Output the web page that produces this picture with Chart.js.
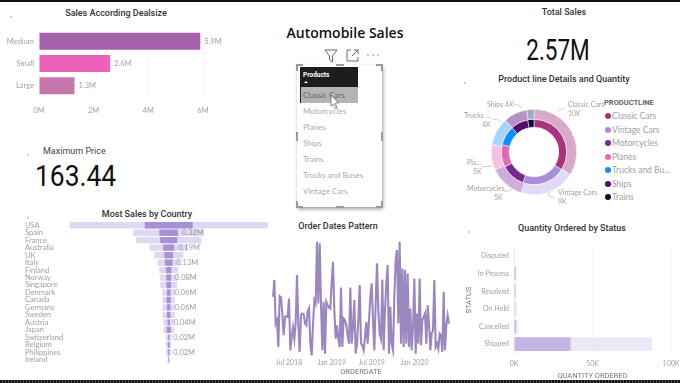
<!DOCTYPE html>
<html>
<head>
<meta charset="utf-8">
<title>Automobile Sales</title>
<script src="https://cdn.jsdelivr.net/npm/chart.js@4"></script>
<style>
  html, body { margin: 0; padding: 0; background: #fff; }
  #page { position: relative; width: 680px; height: 383px; overflow: hidden; font-family: Roboto, sans-serif; background: #fff; filter: blur(0.4px); }
  #page canvas { position: absolute; }
  .txt { position: absolute; white-space: nowrap; line-height: 1; transform: translate(-50%, -50%); }
  .left { transform: translate(0, -50%); }
  .title { font-size: 9px; font-weight: 500; color: #333; }
  .kpi { font-size: 30px; font-weight: 400; color: #111; }
  .topbar { position: absolute; left: 0; top: 0; width: 680px; height: 2px; background: #111; }
  .botbar { position: absolute; left: 0; top: 380px; width: 680px; height: 3px; background: repeating-linear-gradient(90deg, #111 0 2px, #555 2px 3px); }
  #slicer { position: absolute; left: 297px; top: 65px; width: 85px; height: 142px; background: #fff; box-shadow: 1px 2px 4px rgba(0,0,0,.4); }
  #slicer .head { position: absolute; left: 3px; top: 2px; width: 58px; height: 20px; background: #1c1c1c; }
  #slicer .sel { position: absolute; left: 3px; top: 22px; width: 58px; height: 16px; background: #b4b4b4; border-left: 1px solid #222; box-sizing: border-box; }
  .dot { position: absolute; width: 6px; height: 6px; border-radius: 50%; transform: translate(-50%, -50%); }
  .small { font-family: Lato, Roboto, sans-serif; }
</style>
</head>
<body>
<div id="page">
  <div class="topbar"></div>
  <div class="botbar"></div>

  <div class="txt title" style="left:116px;top:13px">Sales According Dealsize</div>
  <div class="txt left" style="left:43px;top:151px;font-size:9px;color:#444">Maximum Price</div>
  <div class="txt left kpi" style="left:35px;top:176px;transform:translate(0,-50%) scaleX(.88);transform-origin:left center">163.44</div>
  <div class="txt title" style="left:147px;top:214px">Most Sales by Country</div>
  <div class="txt title" style="left:338px;top:226px">Order Dates Pattern</div>
  <div class="txt" style="left:345px;top:32px;font:600 14px 'Open Sans',sans-serif;color:#111">Automobile Sales</div>
  <div class="txt title" style="left:564px;top:12px">Total Sales</div>
  <div class="txt kpi" style="left:558px;top:50px;transform:translate(-50%,-50%) scaleX(.75)">2.57M</div>
  <div class="txt title" style="left:564px;top:79px">Product line Details and Quantity</div>
  <div class="txt title" style="left:572px;top:228px">Quantity Ordered by Status</div>
  <div class="txt left" style="left:604px;top:103px;font-size:7.5px;font-weight:700;color:#666">PRODUCTLINE</div>
  <div id="legend"></div>

  <div id="slicer">
    <div class="head"></div>
    <div class="sel"></div>
  </div>
  <div class="txt left" style="left:303px;top:75px;font-size:6.5px;font-weight:700;color:#fff">Products</div>
  <div id="slicerItems"></div>
  <svg width="680" height="383" style="position:absolute;left:0;top:0;pointer-events:none">
    <g fill="none" stroke="#666" stroke-width="1">
      <path d="M325 50h12l-4.5 6v6l-3-2v-4z"/>
      <path d="M351 50h-4v11h11v-4M352 56l6-6M354 50h4v4"/>
    </g>
    <g fill="#777"><circle cx="368" cy="55" r=".8"/><circle cx="373" cy="55" r=".8"/><circle cx="378" cy="55" r=".8"/></g>
    <g fill="#777"><circle cx="11" cy="17" r=".7"/><circle cx="28" cy="155" r=".7"/><circle cx="28" cy="218" r=".7"/><circle cx="465" cy="83" r=".7"/><circle cx="469" cy="232" r=".7"/></g>
    <path d="M304 83l2-2 2 2z" fill="#fff"/>
    <g fill="#9a9a9a">
      <path d="M296 64h7v2h-5v5h-2z"/><path d="M383 64h-7v2h5v5h2z"/>
      <path d="M296 208h7v-2h-5v-5h-2z"/><path d="M383 208h-7v-2h5v-5h2z"/>
      <rect x="336" y="64" width="8" height="2"/><rect x="336" y="206" width="8" height="2"/>
      <rect x="296" y="132" width="2" height="9"/><rect x="381" y="132" width="2" height="9"/>
    </g>
    <path d="M331 95v11l2.5-2 2 4.5 1.6-.8-2-4.4 3.4-.3z" fill="#fff" stroke="#555" stroke-width=".7"/>
  </svg>

  <canvas id="dealChart" width="240" height="100" style="left:0;top:20px"></canvas>
  <canvas id="countryChart" width="260" height="155" style="left:20px;top:215px"></canvas>
  <canvas id="orderChart" width="195" height="145" style="left:265px;top:232px"></canvas>
  <canvas id="productChart" width="148" height="112" style="left:460px;top:96px"></canvas>
  <canvas id="statusChart" width="230" height="143" style="left:465px;top:238px"></canvas>
</div>

<script>
// deal size
const dealSizes = ['Medium', 'Small', 'Large'];
const dealSales = [5.9, 2.6, 1.3];
const dealColors = ['#a560aa', '#ec62b8', '#c678ad'];

// country funnel, values in millions
const countries = ['USA', 'Spain', 'France', 'Australia', 'UK', 'Italy', 'Finland', 'Norway', 'Singapore', 'Denmark',
  'Canada', 'Germany', 'Sweden', 'Austria', 'Japan', 'Switzerland', 'Belgium', 'Philippines', 'Ireland'];
const countrySalesInner = [0.82, 0.32, 0.29, 0.19, 0.15, 0.13, 0.09, 0.08, 0.08, 0.06, 0.07, 0.06, 0.06, 0.04, 0.07, 0.02, 0.03, 0.02, 0.01];
const countrySalesOuter = [3.39, 1.21, 1.12, 0.65, 0.50, 0.38, 0.33, 0.30, 0.29, 0.22, 0.21, 0.21, 0.21, 0.18, 0.18, 0.10, 0.09, 0.09, 0.04];

// order dates line
const orderQuantity = [540, 690, 300, 330, 90, 546, 534, 390, 195, 360, 366, 360, 525, 60, 180, 264, 165, 300, 735, 300,
  45, 375, 390, 384, 300, 285, 405, 435, 120, 15, 285, 510, 480, 1035, 480, 1020, 480, 60, 495, 30,
  495, 465, 444, 435, 660, 855, 420, 165, 285, 165, 90, 624, 90, 345, 330, 285, 195, 120, 624, 120,
  270, 510, 30, 120, 330, 645, 120, 105, 60, 180, 315, 120, 330, 540, 660, 330, 60, 480, 840, 420,
  210, 165, 696, 60, 420, 660, 825, 30, 450, 120, 60, 540, 870, 960, 300, 1035, 120, 795, 90, 780,
  120, 750, 90, 435, 60, 270, 705, 30, 390, 120, 705, 105, 330, 360, 390, 120, 465, 300, 60, 210,
  240, 690, 90, 120, 75, 210, 195, 45, 585, 60, 285, 375, 300];
const orderTickIndex = [12, 44, 74, 106];
const orderTickText = ['Jul 2018', 'Jan 2019', 'Jul 2019', 'Jan 2020'];

// product line donut
const productLines = ['Classic Cars', 'Vintage Cars', 'Motorcycles', 'Planes', 'Trucks and Buses', 'Ships', 'Trains'];
const productLegendText = ['Classic Cars', 'Vintage Cars', 'Motorcycles', 'Planes', 'Trucks and Bu...', 'Ships', 'Trains'];
const productOuter = [34, 21, 13.5, 9.5, 10.7, 8.9, 2.8];
const productInner = [34, 21.5, 12, 11, 9.7, 8.6, 3.1];
const productColors = ['#a8337f', '#a98fd8', '#7b2a8c', '#e568b3', '#118dff', '#4f0f6a', '#0c0b3f'];
const productTints = ['#d9a9c9', '#e2daf4', '#cdaed8', '#f3c0e1', '#a9d4fa', '#b592c2', '#a3aac2'];
const calloutName = ['Classic Cars', 'Vintage Cars', 'Motorcycles', 'Pla...', 'Trucks ...', 'Ships 4K'];
const calloutValue = ['10K', '9K', '5K', '5K', '4K', ''];

// status
const statuses = ['Disputed', 'In Process', 'Resolved', 'On Hold', 'Cancelled', 'Shipped'];
const statusInner = [0.3, 1, 0.8, 0.5, 1.2, 36];
const statusOuter = [0.8, 1.6, 1.3, 2, 2.6, 88];

const slicerItems = ['Classic Cars', 'Motorcycles', 'Planes', 'Ships', 'Trains', 'Trucks and Buses', 'Vintage Cars'];

const smallFont = 'Lato, Roboto, sans-serif';
Chart.defaults.font.family = smallFont;
Chart.defaults.animation = false;
Chart.defaults.responsive = false;
Chart.defaults.plugins.legend.display = false;
Chart.defaults.plugins.tooltip.enabled = false;

const grayText = '#a0a0a0';

// text right after the end of a bar
const endLabels = {
  id: 'endLabels',
  afterDatasetsDraw(chart, args, opts) {
    const ctx = chart.ctx;
    ctx.save();
    ctx.font = opts.font;
    ctx.fillStyle = opts.color;
    ctx.textBaseline = 'middle';
    chart.getDatasetMeta(opts.dataset).data.forEach(function(bar, i) {
      if (opts.text[i]) ctx.fillText(opts.text[i], Math.max(bar.x, bar.base) + opts.gap, bar.y);
    });
    ctx.restore();
  }
};

// donut callouts, text and leader line placed per slice
const calloutPlaces = [
  { x: 108, y: 9, line: [[97, 15], [105, 12]] },
  { x: 98, y: 97, line: [[88, 96], [90, 101], [95, 101]] },
  { x: 7, y: 93, valueX: 34, line: [[44, 96], [51, 94], [53, 91]] },
  { x: 7, y: 67, valueX: 13, line: [[21, 71], [32, 70]] },
  { x: 4, y: 20, valueX: 22, line: [[32, 23], [39, 24], [42, 27]] },
  { x: 27, y: 9, line: [[53, 8], [59, 9], [61, 12]] }
];
const callouts = {
  id: 'callouts',
  afterDatasetsDraw(chart) {
    const ctx = chart.ctx;
    ctx.save();
    ctx.font = '7px ' + smallFont;
    ctx.textBaseline = 'middle';
    calloutPlaces.forEach(function(p, i) {
      ctx.strokeStyle = '#c4c4c4';
      ctx.lineWidth = 0.8;
      ctx.beginPath();
      p.line.forEach(function(pt, k) {
        if (k === 0) ctx.moveTo(pt[0], pt[1]); else ctx.lineTo(pt[0], pt[1]);
      });
      ctx.stroke();
      ctx.fillStyle = grayText;
      ctx.fillText(calloutName[i], p.x, p.y);
      if (calloutValue[i]) ctx.fillText(calloutValue[i], p.valueX === undefined ? p.x : p.valueX, p.y + 9);
    });
    ctx.restore();
  }
};

new Chart(document.getElementById('dealChart'), {
  type: 'bar',
  plugins: [endLabels],
  data: {
    labels: dealSizes,
    datasets: [{ data: dealSales, backgroundColor: dealColors, barPercentage: 0.76, categoryPercentage: 1 }]
  },
  options: {
    indexAxis: 'y',
    layout: { padding: { top: 10, right: 37, left: 0, bottom: 0 } },
    plugins: { endLabels: { dataset: 0, text: dealSales.map(v => v + 'M'), font: '7.5px ' + smallFont, color: grayText, gap: 4 } },
    scales: {
      x: {
        min: 0, max: 6,
        afterFit: s => { s.height = 23; },
        grid: { color: '#f7f7f7', drawTicks: false },
        border: { display: false },
        ticks: { stepSize: 2, padding: 9, color: grayText, font: { size: 7.5 }, callback: v => v + 'M' }
      },
      y: {
        afterFit: s => { s.width = 39; },
        grid: { display: false, drawTicks: false },
        border: { display: false },
        ticks: { padding: 5, color: grayText, font: { size: 7.5 } }
      }
    }
  }
});

new Chart(document.getElementById('countryChart'), {
  type: 'bar',
  plugins: [endLabels],
  data: {
    labels: countries,
    datasets: [
      { data: countrySalesInner.map(v => [-v / 2, v / 2]), backgroundColor: '#a98fd6', grouped: false, barPercentage: 0.85, categoryPercentage: 1 },
      { data: countrySalesOuter.map(v => [-v / 2, v / 2]), backgroundColor: '#e0d8f3', grouped: false, barPercentage: 0.85, categoryPercentage: 1 }
    ]
  },
  options: {
    indexAxis: 'y',
    layout: { padding: { top: 6, right: 11.3, left: 5, bottom: 6 } },
    plugins: {
      endLabels: {
        dataset: 0,
        text: countrySalesInner.map((v, i) => i % 2 ? v.toFixed(2) + 'M' : ''),
        font: '7.5px ' + smallFont, color: '#999', gap: 4
      }
    },
    scales: {
      x: { display: false, min: -1.712, max: 1.712 },
      y: {
        afterFit: s => { s.width = 43.7; },
        grid: { display: false, drawTicks: false },
        border: { display: false },
        ticks: { crossAlign: 'far', autoSkip: false, padding: 2, color: grayText, font: { size: 7.5 } }
      }
    }
  }
});

new Chart(document.getElementById('orderChart'), {
  type: 'line',
  data: {
    labels: orderQuantity.map((v, i) => i),
    datasets: [{ data: orderQuantity, borderColor: '#9a87c0', borderWidth: 2.1, pointRadius: 0, tension: 0 }]
  },
  options: {
    layout: { padding: { top: 8, right: 11, left: 8, bottom: 0 } },
    scales: {
      x: {
        afterFit: s => { s.height = 20; },
        offset: false,
        grid: { display: false, drawTicks: false },
        border: { display: false },
        title: { display: true, text: 'ORDERDATE', color: '#777', font: { size: 7.5, family: 'Roboto, sans-serif' }, padding: 0 },
        ticks: {
          autoSkip: false, maxRotation: 0, padding: 2, color: grayText, font: { size: 7 },
          callback: function(v, i) {
            const k = orderTickIndex.indexOf(i);
            return k < 0 ? '' : orderTickText[k];
          }
        }
      },
      y: { display: false, min: 0, max: 1050 }
    }
  }
});

new Chart(document.getElementById('productChart'), {
  type: 'doughnut',
  plugins: [callouts],
  data: {
    labels: productLines,
    datasets: [
      { data: productOuter, backgroundColor: productTints, borderWidth: 0.5, borderColor: '#fff', weight: 10 },
      { data: productInner, backgroundColor: productColors, borderWidth: 0.5, borderColor: '#fff', weight: 8 }
    ]
  },
  options: {
    cutout: '58%',
    layout: { padding: { top: 13, bottom: 13, left: 31, right: 31 } }
  }
});

new Chart(document.getElementById('statusChart'), {
  type: 'bar',
  data: {
    labels: statuses,
    datasets: [
      { data: statusInner, backgroundColor: '#c5b5e4', grouped: false, barPercentage: 0.78, categoryPercentage: 1 },
      { data: statusOuter, backgroundColor: '#ece7f7', grouped: false, barPercentage: 0.78, categoryPercentage: 1 }
    ]
  },
  options: {
    indexAxis: 'y',
    layout: { padding: { top: 7, right: 24, left: 0, bottom: 0 } },
    scales: {
      x: {
        min: 0, max: 100,
        afterFit: s => { s.height = 28; },
        grid: { color: '#f5f5f5', drawTicks: false },
        border: { display: false },
        title: { display: true, text: 'QUANTITY ORDERED', color: '#777', font: { size: 7.5, family: 'Roboto, sans-serif' }, padding: 0 },
        ticks: { stepSize: 50, padding: 7, color: grayText, font: { size: 7 }, callback: v => v + 'K' }
      },
      y: {
        afterFit: s => { s.width = 49; },
        grid: { display: false, drawTicks: false },
        border: { color: '#eee' },
        title: { display: true, text: 'STATUS', color: '#777', font: { size: 7.5, family: 'Roboto, sans-serif' }, padding: 0 },
        ticks: { padding: 5, color: grayText, font: { size: 7 } }
      }
    }
  }
});

// html legend and slicer rows
const legendBox = document.getElementById('legend');
productLegendText.forEach(function(name, i) {
  const y = 116 + i * 13.5;
  legendBox.insertAdjacentHTML('beforeend',
    '<div class="dot" style="left:608px;top:' + y + 'px;background:' + productColors[i] + '"></div>' +
    '<div class="txt left small" style="left:612px;top:' + y + 'px;font-size:8.5px;color:#a0a0a0">' + name + '</div>');
});
const slicerBox = document.getElementById('slicerItems');
slicerItems.forEach(function(name, i) {
  slicerBox.insertAdjacentHTML('beforeend',
    '<div class="txt left small" style="left:303px;top:' + (95 + i * 16) + 'px;font-size:8px;color:' + (i ? '#aaa' : '#666') + '">' + name + '</div>');
});
</script>
</body>
</html>
